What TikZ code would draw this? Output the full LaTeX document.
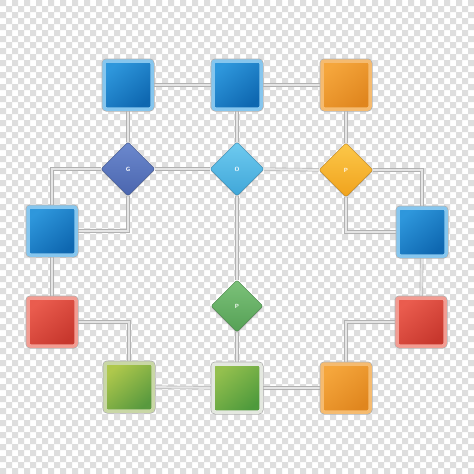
\documentclass[tikz,border=0pt]{standalone}
\usetikzlibrary{shapes.geometric,shadows}
\pgfdeclarelayer{checker}
\pgfdeclarelayer{conn}
\pgfsetlayers{checker,conn,main}
\definecolor{checkgray}{HTML}{DEDEDE}
\definecolor{blueB}{HTML}{86C6EE}\definecolor{blueL}{HTML}{2E97DC}\definecolor{blueD}{HTML}{0E67B0}
\definecolor{orB}{HTML}{F5BB70}\definecolor{orL}{HTML}{F5A63C}\definecolor{orD}{HTML}{E0861E}
\definecolor{redB}{HTML}{F29C92}\definecolor{redL}{HTML}{EA5C4E}\definecolor{redD}{HTML}{C7372D}
\definecolor{grB}{HTML}{C9D7A6}\definecolor{grL}{HTML}{AFC84C}\definecolor{grD}{HTML}{58993E}
\definecolor{grBw}{HTML}{E4E8E0}\definecolor{grL2}{HTML}{94C04E}\definecolor{grD2}{HTML}{4E9A3C}
\definecolor{d1L}{HTML}{6C89CE}\definecolor{d1D}{HTML}{4A65AE}
\definecolor{d2L}{HTML}{6FCBF0}\definecolor{d2D}{HTML}{3FA6D8}
\definecolor{d3L}{HTML}{FCC84A}\definecolor{d3D}{HTML}{F0A21C}
\definecolor{d4L}{HTML}{7CC27A}\definecolor{d4D}{HTML}{55A055}
\tikzset{
  box/.style n args={3}{rectangle, minimum size=48pt, inner sep=0pt,
    rounded corners=2.5pt, draw=#1, line width=3.5pt,
    top color=#2, bottom color=#3, shading angle=40,
    preaction={draw=black!30, line width=5pt}},
  dia/.style n args={3}{diamond, minimum size=#1, inner sep=0pt,
    rounded corners=2pt, top color=#2, bottom color=#3,
    draw=#3!80!black, line width=0.4pt,
    drop shadow={shadow xshift=0pt, shadow yshift=-1.5pt, opacity=0.35},
    text=white, font=\fontsize{6}{7}\selectfont\sffamily\bfseries},
  conn/.style={draw=black!30, line width=0.6pt, double=black!10, double distance=2.2pt}
}
\begin{document}
\begin{tikzpicture}[x=1pt,y=-1pt]
\useasboundingbox (0,0) rectangle (474,474);
\begin{pgfonlayer}{checker}
  \fill[white] (0,0) rectangle (474,474);
  \foreach \i in {0,...,78} {
    \pgfmathsetmacro\off{mod(\i,2)*6}
    \fill[checkgray] foreach \j in {0,12,...,468} {(\j+\off,\i*6) rectangle ++(6,6)};
  }
\end{pgfonlayer}
% squares
\node[box={blueB}{blueL}{blueD}] (A) at (128,85) {};
\node[box={blueB}{blueL}{blueD}] (B) at (237,85) {};
\node[box={orB}{orL}{orD}] (C) at (346,85) {};
\node[box={blueB}{blueL}{blueD}] (LB) at (52,231) {};
\node[box={blueB}{blueL}{blueD}] (RB) at (422,232) {};
\node[box={redB}{redL}{redD}] (RL) at (52,322) {};
\node[box={redB}{redL}{redD}] (RR) at (421,322) {};
\node[box={grB}{grL}{grD}] (G1) at (129,387) {};
\node[box={grBw}{grL2}{grD2}] (G2) at (237,388) {};
\node[box={orB}{orL}{orD}] (O2) at (346,388) {};
% diamonds
\node[dia={54pt}{d1L}{d1D}] (D1) at (128,169) {G};
\node[dia={54pt}{d2L}{d2D}] (D2) at (237,169) {O};
\node[dia={54pt}{d3L}{d3D}] (D3) at (346,170) {P};
\node[dia={52pt}{d4L}{d4D}] (GD) at (237,306) {P};
% connectors
\begin{pgfonlayer}{conn}
  \draw[conn] (A) -- (B);
  \draw[conn] (B) -- (C);
  \draw[conn] (A) -- (D1);
  \draw[conn] (B) -- (D2);
  \draw[conn] (C) -- (D3);
  \draw[conn] (D1) -- (D2);
  \draw[conn] (D2) -- (D3);
  \draw[conn] (D1.west) -| (LB.north);
  \draw[conn] (LB.east) -| (D1.south);
  \draw[conn] (D3.east) -| (RB.north);
  \draw[conn] (RB.west) -| (D3.south);
  \draw[conn] (D2) -- (GD);
  \draw[conn] (GD) -- (G2);
  \draw[conn] (LB) -- (RL);
  \draw[conn] (RB) -- (RR);
  \draw[conn] (RL.east) -| (G1.north);
  \draw[conn] (RR.west) -| (O2.north);
  \draw[conn] (G1) -- (G2);
  \draw[conn] (G2) -- (O2);
\end{pgfonlayer}
\end{tikzpicture}
\end{document}
